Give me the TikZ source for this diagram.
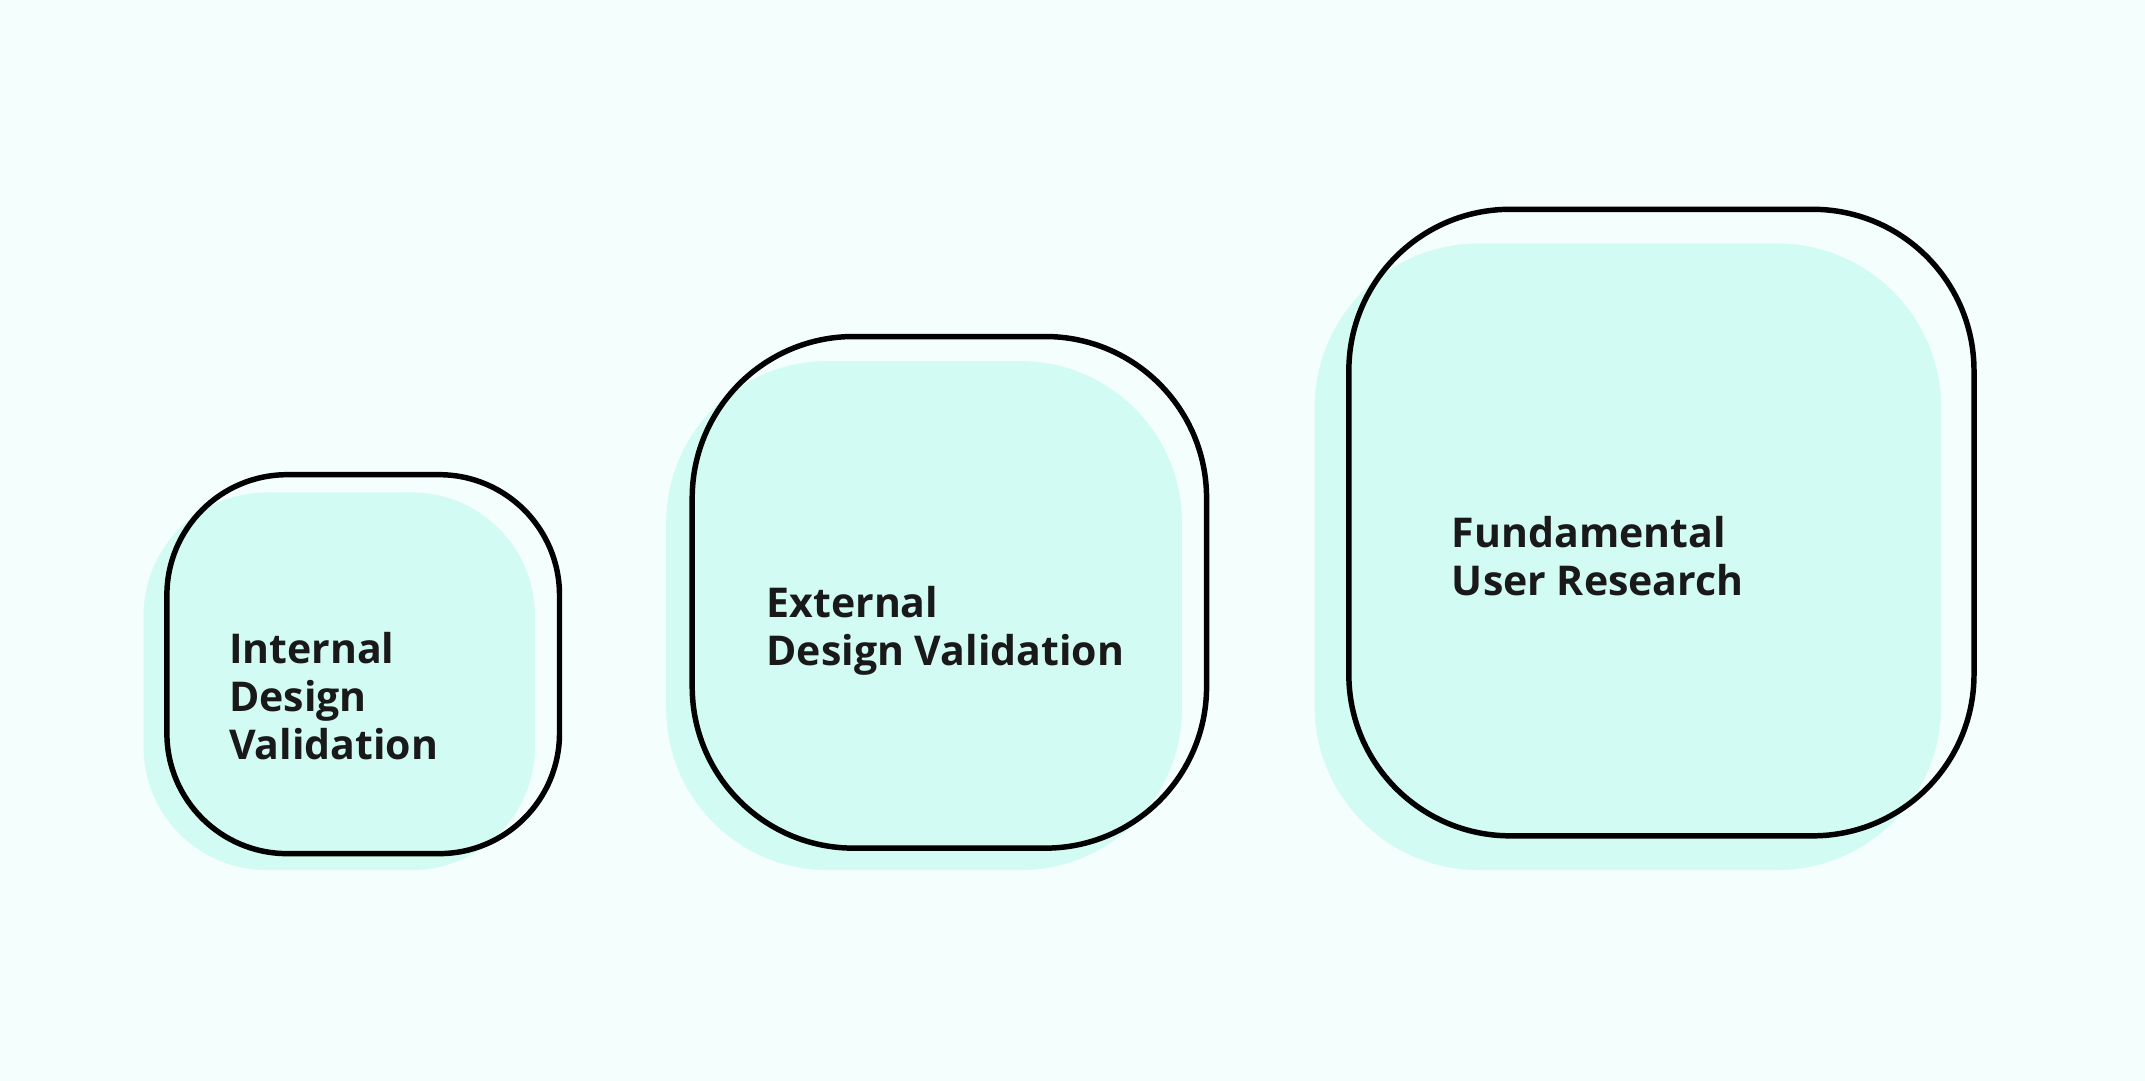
\documentclass[tikz,border=0pt]{standalone}
\usepackage{fontspec}
\setmainfont{Open Sans}
\definecolor{bg}{HTML}{F3FEFD}
\definecolor{mint}{HTML}{D2FBF3}
\begin{document}
\begin{tikzpicture}[x=0.5pt,y=-0.5pt,
  shadow/.style={fill=mint},
  outline/.style={draw=black,line width=2pt},
  lbl/.style={anchor=north west,inner sep=0pt,align=left,font=\fontsize{15}{17.5}\selectfont\bfseries,text=black!90}]
\fill[bg] (0,0) rectangle (1568,790);
\useasboundingbox (0,0) rectangle (1568,790);
% box 1
\fill[shadow,rounded corners=45pt] (105,360) rectangle (391,636);
\draw[outline,rounded corners=44pt] (122,347) rectangle (409,624);
\node[lbl] (t1) at (167,462) {Internal\\Design\\Validation};
% box 2
\fill[shadow,rounded corners=59pt] (487,264) rectangle (864,636);
\draw[outline,rounded corners=59pt] (506,246) rectangle (882,620);
\node[lbl] (t2) at (560,428) {External\\Design Validation};
% box 3
\fill[shadow,rounded corners=60pt] (961,178) rectangle (1419,636);
\draw[outline,rounded corners=59pt] (986,153) rectangle (1443,611);
\node[lbl] (t3) at (1061,377) {Fundamental\\User Research};
\end{tikzpicture}
\end{document}
